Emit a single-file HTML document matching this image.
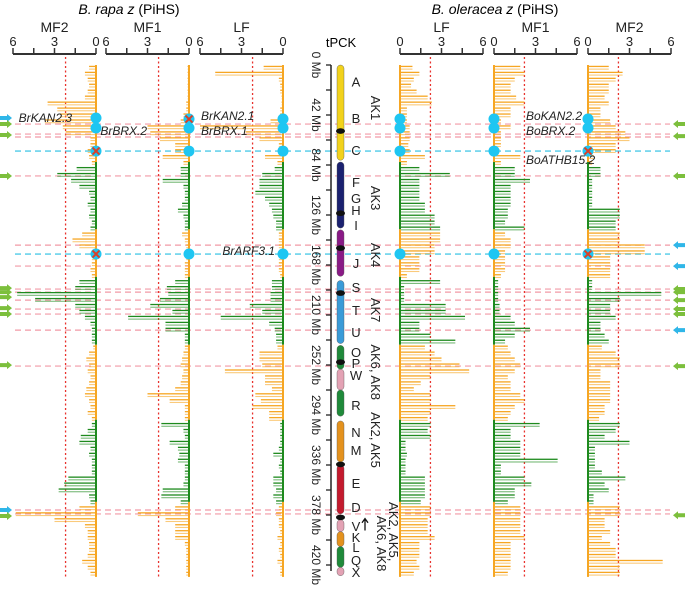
<!DOCTYPE html>
<html><head><meta charset="utf-8">
<style>
html,body{margin:0;padding:0;background:#fff;}
svg{display:block;font-family:"Liberation Sans",sans-serif;}
</style></head>
<body>
<svg id="chart" width="685" height="591" viewBox="0 0 685 591" xmlns="http://www.w3.org/2000/svg">
<text x="129" y="14" font-size="14" text-anchor="middle"><tspan font-style="italic">B. rapa  z</tspan> (PiHS)</text>
<text x="495" y="14" font-size="14" text-anchor="middle"><tspan font-style="italic">B. oleracea  z</tspan> (PiHS)</text>
<text x="341" y="47" font-size="13" text-anchor="middle">tPCK</text>
<g id="layer"></g>
</svg>
<script>
// ---- data ----
const binSizeMb = 5;
const mbTicks = [0,42,84,126,168,210,252,294,336,378,420];
const zTicks = [0,3,6];
const threshold = 2.2;
const blockBounds = [0,81.5,138,178,235,298,367,430]; // alternating orange/green blocks
const lMF2 = [0.5,0.8,0.6,0.5,0.6,0.8,3.5,2.8,2.6,3.7,2.4,2.2,0.4,0.4,0.6,0.5,0.3,1.4,2.8,1.8,1.2,0.5,0.4,0.6,0.4,0.5,0.3,0.4,1.0,1.7,1.2,0.3,0.3,0.3,0.4,0.3,1.2,1.5,5.7,4.4,1.5,1.2,0.8,0.4,0.3,0.3,0.3,0.2,0.5,0.7,0.5,0.6,0.4,0.5,0.7,0.8,0.5,0.4,0.6,0.3,0.3,0.6,1.1,1.2,0.4,0.5,0.3,0.3,0.3,2.0,2.3,2.7,0.5,0.4,1.2,5.8,3.0,0.8,0.6,0.6,0.5,0.5,0.6,1.0,0.6,0.4];
const lMF1 = [0.1,0.1,0.1,0.1,0.1,0.1,0.2,0.2,0.4,0.6,3.0,2.8,2.1,1.0,1.0,1.9,0.4,0.6,0.6,1.9,0.4,0.3,0.3,0.5,0.8,0.4,0.3,0.3,0.5,0.3,0.2,0.2,0.2,0.3,0.3,0.3,1.0,1.6,1.5,2.1,2.8,1.2,4.4,1.7,1.7,0.3,0.3,0.3,0.4,0.5,0.6,0.4,0.5,0.6,1.0,3.0,1.4,0.3,0.3,0.3,2.0,0.4,0.3,1.4,0.8,0.7,0.8,0.3,0.3,0.3,0.4,1.9,2.0,0.6,1.0,3.7,1.7,1.0,1.0,1.0,0.3,0.2,0.2,0.2,0.2,0.2];
const lLF = [1.4,4.9,0.3,0.2,0.2,0.1,0.1,0.2,0.2,0.9,6.0,2.7,1.7,0.3,0.3,1.3,0.4,0.6,1.5,1.7,1.7,2.0,1.3,1.0,0.8,0.7,0.5,0.5,0.3,0.3,0.3,0.2,0.3,0.3,0.3,0.2,0.8,0.8,0.9,0.9,2.4,1.5,4.5,1.0,0.6,0.5,0.5,0.4,1.7,1.7,1.5,4.2,1.3,1.3,0.8,2.0,1.6,2.2,1.0,1.0,0.2,0.2,0.2,0.2,0.3,0.7,0.2,0.3,0.2,0.7,0.7,0.5,0.7,0.5,0.3,0.5,0.3,0.3,0.2,0.4,0.2,0.3,0.2,0.4,0.2,0.2];
const rLF = [0.9,1.4,1.0,0.8,1.2,2.0,2.3,0.5,0.5,0.5,0.7,0.7,0.7,0.6,0.7,1.8,0.5,1.4,3.6,1.4,1.4,1.4,1.4,1.8,1.8,2.5,2.5,2.9,2.9,2.9,2.5,2.5,1.4,1.4,1.4,0.5,2.9,0.3,0.3,0.3,3.3,3.3,4.7,1.4,1.4,2.2,4.0,1.8,2.5,3.0,4.3,5.0,2.2,1.5,1.0,2.2,2.2,4.0,2.2,2.0,2.2,2.0,2.2,0.4,0.4,0.5,0.4,0.4,0.4,1.8,1.8,1.8,1.8,1.5,2.2,2.2,2.0,2.0,2.0,2.5,1.4,1.4,1.4,1.2,1.4,1.0];
const rMF1 = [1.9,2.2,1.5,1.2,1.2,1.6,2.2,1.2,1.2,0.5,1.2,0.5,0.5,0.5,0.4,1.9,0.5,1.5,1.5,2.6,1.2,1.2,1.2,1.2,1.0,1.0,0.8,2.2,0.8,1.2,1.2,0.8,0.8,0.8,0.8,0.5,0.3,0.3,0.3,0.3,0.4,0.4,1.2,1.5,2.6,1.5,0.8,1.0,1.2,1.5,1.9,1.5,1.0,1.2,1.2,1.9,2.2,1.5,1.2,1.0,3.3,1.2,1.2,1.9,1.9,1.9,4.6,0.5,0.5,2.2,2.7,1.5,1.5,1.0,1.9,1.9,1.9,1.9,1.9,2.2,1.2,1.2,1.2,1.2,1.2,1.0];
const rMF2 = [1.5,2.5,2.0,1.5,1.5,1.2,1.5,0.9,0.9,1.6,2.0,2.7,3.0,2.0,2.0,0.4,0.3,0.9,0.9,0.3,0.3,0.3,0.3,0.3,2.3,2.3,2.0,2.0,2.3,2.3,4.1,4.1,1.6,1.6,1.6,1.6,0.3,0.3,5.3,2.3,1.6,1.6,2.0,0.9,0.9,1.2,1.5,1.0,2.0,2.3,2.3,0.9,0.9,1.6,1.6,1.6,1.6,1.2,1.2,0.8,2.3,2.0,1.2,3.0,0.5,0.5,0.5,0.5,1.0,2.7,1.2,1.5,0.4,0.4,2.3,2.3,1.2,1.2,1.6,1.0,1.6,2.0,2.0,5.4,2.3,2.3];
const panelNames = ["MF2","MF1","LF","LF","MF1","MF2"];
const pinkLinesMb = [49.6,58.0,60.5,93.2,151.3,168.9,188.2,190.8,197.5,205.0,209.2,222.7,252.9,373.8,377.1];
const cyanLinesMb = [72.3,158.8];
const leftArrowsMb = [[44.5,"cyan"],[49.6,"green"],[58.8,"green"],[93.2,"green"],[187.4,"green"],[190.8,"green"],[195.0,"green"],[204.2,"green"],[209.2,"green"],[252.1,"green"],[373.8,"cyan"],[378.8,"green"]];
const rightArrowsMb = [[49.6,"green"],[59.7,"green"],[93.2,"green"],[151.3,"cyan"],[168.9,"cyan"],[188.2,"green"],[190.8,"green"],[197.5,"green"],[205.0,"green"],[209.2,"green"],[222.7,"cyan"],[252.9,"green"],[378.2,"green"]];
const markers = [[0,44.5,"dot"],[0,52.9,"dot"],[0,72.3,"x"],[1,45.4,"x"],[1,52.9,"dot"],[1,72.3,"dot"],[2,45.4,"dot"],[2,52.9,"dot"],[2,72.3,"dot"],
 [3,45.4,"dot"],[3,52.9,"dot"],[3,72.3,"dot"],[4,45.4,"dot"],[4,52.9,"dot"],[4,72.3,"dot"],[5,45.4,"dot"],[5,52.9,"dot"],[5,72.3,"x"],
 [0,158.8,"x"],[1,158.8,"dot"],[2,158.8,"dot"],[3,158.8,"dot"],[4,158.8,"dot"],[5,158.8,"x"]];
const geneLabels = [["BrKAN2.3",72,44.5,"end"],["BrBRX.2",147,55.5,"end"],["BrKAN2.1",201,42.9,"start"],["BrBRX.1",201,55.5,"start"],["BrARF3.1",275,156.3,"end"],["BoKAN2.2",526,42.9,"start"],["BoBRX.2",526,55.5,"start"],["BoATHB15.2",526,79.8,"start"]];
const chromSegs = [[0,80,"#f2d21c"],[81.5,137,"#1b2170"],[138.5,177.5,"#8a1a86"],[181,234,"#3a9bd8"],[235.5,255.5,"#1f8a3a"],[255.5,273,"#e3a2b4"],[273,295,"#1f8a3a"],[299,333.5,"#e4921e"],[336,377,"#c41a2e"],[382,392,"#e3a2b4"],[392,404.5,"#e4921e"],[404.5,422,"#1f8a3a"],[422,429,"#e3a2b4"]];
const centromeres = [55.5,124.5,153.8,191.6,249.6,335.5,380];
const segLetters = [["A",14],["B",44.5],["C",71.4],["F",98.3],["G",111.8],["H",121.8],["I",134.5],["J",166.4],["S",186.6],["T",205.9],["U",224.4],["O",241],["P",250.5],["W",260.5],["R",285.7],["N",308.4],["M",323.5],["E",351.3],["D",371.4],["V",387.4],["K",396.6],["L",405],["Q",415.9],["X",426]];
const akLabels = [["AK1",36.1,376],["AK3",111.8,376],["AK4",159.7,376],["AK7",205.9,376],["AK6, AK8",258,376],["AK2, AK5",315,376],["AK2, AK5,",392,394],["AK6, AK8",402,382]];

// ---- axes ----
const NS="http://www.w3.org/2000/svg";
const layer=document.getElementById('layer');
const Y0=65, PXMB=25/21, UNIT=83/6;
function y(mb){return Y0+mb*PXMB;}
const bases=[96,189,283,400,494,588];
const dirs=[-1,-1,-1,1,1,1];
function x(p,z){return bases[p]+dirs[p]*z*UNIT;}
function el(t,a,parent){const e=document.createElementNS(NS,t);for(const k in a)e.setAttribute(k,a[k]);(parent||layer).appendChild(e);return e;}
function blockColor(mb){let k=0;for(let i=0;i<blockBounds.length-1;i++){if(mb>=blockBounds[i])k=i;}return k%2===0?"#f6a623":"#1e8a1e";}
const ORANGE="#f6a623", GREEN="#1e8a1e", PINK="#f29aa6", CYAN="#4fcbe8", RED="#e8322c";

pinkLinesMb.forEach(m=>{const l=el('line',{x1:15,x2:670,y1:y(m),y2:y(m),stroke:PINK,'stroke-width':1.2,'stroke-dasharray':'6,4'});

});
cyanLinesMb.forEach(m=>{const l=el('line',{x1:15,x2:670,y1:y(m),y2:y(m),stroke:CYAN,'stroke-width':1.3,'stroke-dasharray':'6,4'});

});

const series=[lMF2,lMF1,lLF,rLF,rMF1,rMF2];
for(let p=0;p<6;p++){
  const g=el('g',{});
  
  
  const ax0=x(p,0), ax6=x(p,6);
  const a=el('line',{x1:Math.min(ax0,ax6),x2:Math.max(ax0,ax6),y1:54,y2:54,stroke:'#333','stroke-width':2},g);
  
  
  for(let t=0;t<=6;t+=1.5){el('line',{x1:x(p,t),x2:x(p,t),y1:48,y2:54,stroke:'#333','stroke-width':1.5},g);}
  zTicks.forEach(t=>{const tx=el('text',{x:x(p,t),y:46,'font-size':13,'text-anchor':'middle',fill:'#222'},g);tx.textContent=t;
    
    });
  const tt=el('text',{x:(ax0+ax6)/2,y:32,'font-size':14,'text-anchor':'middle',fill:'#222'},g);tt.textContent=panelNames[p];
  
  
  const th=el('line',{x1:x(p,threshold),x2:x(p,threshold),y1:57,y2:577,stroke:RED,'stroke-width':1.3,'stroke-dasharray':'2,2.5'},g);
  
  
  series[p].forEach((v,i)=>{
    const mb=i*binSizeMb, yy=y(mb+binSizeMb/2), c=blockColor(mb);
    const x1=Math.min(x(p,0),x(p,v)), w=Math.abs(x(p,v)-x(p,0));
    const r=el('rect',{x:x1,y:yy-2.2,width:w,height:1.3,fill:c},g);
    
    
    const r2=el('rect',{x:x1,y:yy+0.6,width:w,height:1.1,fill:c,opacity:0.6},g);
    
    
  });
  for(let b=0;b<blockBounds.length-1;b++){
    el('line',{x1:x(p,0),x2:x(p,0),y1:y(blockBounds[b]),y2:y(blockBounds[b+1]),stroke:b%2===0?ORANGE:GREEN,'stroke-width':2},g);
  }
}
markers.forEach(([p,m,t])=>{
  const c=el('circle',{cx:x(p,0),cy:y(m),r:5.5,fill:'#1ec6f2'});
  
  
  if(t==='x'){const cx=x(p,0),cy=y(m);
    el('path',{d:`M${cx-3.5},${cy-3.5}L${cx+3.5},${cy+3.5}M${cx+3.5},${cy-3.5}L${cx-3.5},${cy+3.5}`,stroke:'#d8402a','stroke-width':2});}
});
geneLabels.forEach(([t,lx,m,anc])=>{const tx=el('text',{x:lx,y:y(m)+4,'font-size':12,'font-style':'italic','text-anchor':anc,fill:'#222'});tx.textContent=t;
  
  });
function arrow(ax,ay,dir,col){
  const fill=col==="cyan"?"#2fb6e8":"#7cbf3c";
  const s=dir;
  const pts=[[0,-2],[7,-2],[7,-4],[12,0],[7,4],[7,2],[0,2]].map(([u,v])=>`${ax+s*u},${ay+v}`).join(' ');
  const a=el('polygon',{points:pts,fill:fill});
  
  
}
leftArrowsMb.forEach(([m,c])=>arrow(0,y(m),1,c));
rightArrowsMb.forEach(([m,c])=>arrow(685,y(m),-1,c));
const cax=el('line',{x1:331,x2:331,y1:y(0),y2:y(425),stroke:'#222','stroke-width':1.5});


for(let m=0;m<=420;m+=21){el('line',{x1:326,x2:331,y1:y(m),y2:y(m),stroke:'#222','stroke-width':1.3});}
mbTicks.forEach(m=>{const tx=el('text',{x:0,y:0,'font-size':12,'text-anchor':'middle',fill:'#222',transform:`translate(312,${y(m)}) rotate(90)`});tx.textContent=m+' Mb';
  
  });
chromSegs.forEach(([a,b,c])=>{const r=el('rect',{x:337,y:y(a),width:7,height:y(b)-y(a),rx:3.5,fill:c,stroke:'#555','stroke-width':0.4});
  
  });
centromeres.forEach(m=>{const e=el('ellipse',{cx:340.5,cy:y(m),rx:4.5,ry:2.8,fill:'#111'});
  
  });
segLetters.forEach(([t,m])=>{const tx=el('text',{x:356,y:y(m)+5,'font-size':13,'text-anchor':'middle',fill:'#222'});tx.textContent=t;
  
  });
akLabels.forEach(([t,m,lx])=>{const tx=el('text',{x:0,y:0,'font-size':13,'text-anchor':'middle',fill:'#222',transform:`translate(${lx-5},${y(m)}) rotate(90)`});tx.textContent=t;
  
  });
const ar=el('path',{d:`M365,${y(391)}L365,${y(382)}M362,${y(384.5)}L365,${y(381)}L368,${y(384.5)}`,stroke:'#111','stroke-width':1.3,fill:'none'});


</script>
</body></html>
